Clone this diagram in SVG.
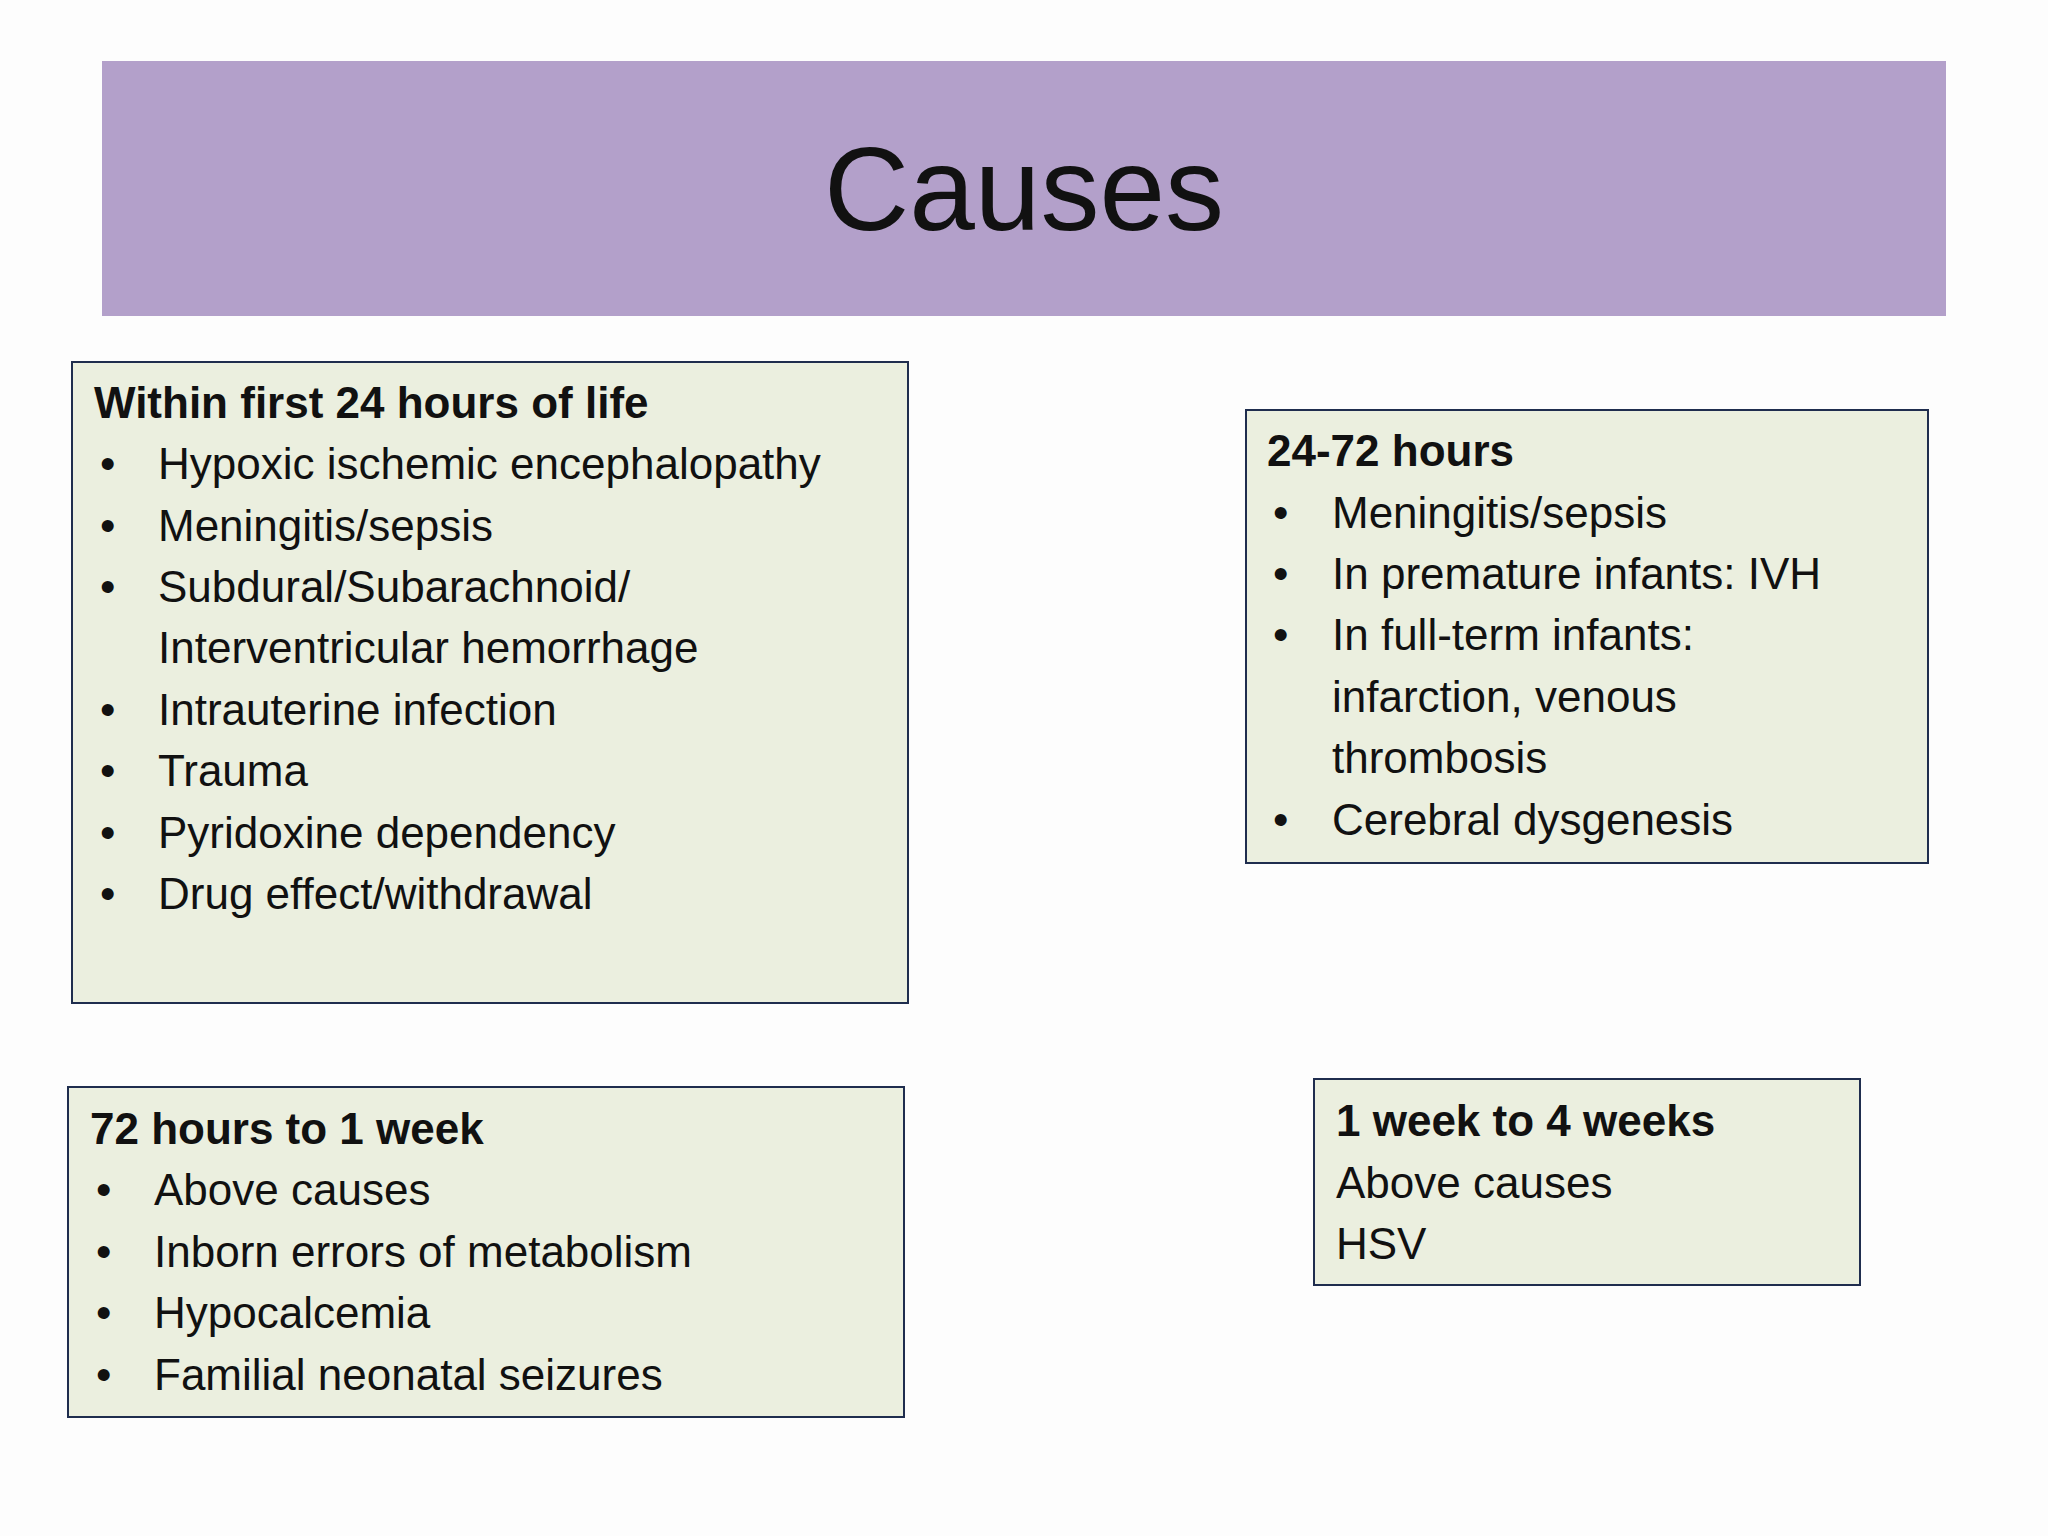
<svg xmlns="http://www.w3.org/2000/svg" width="2048" height="1536" viewBox="0 0 2048 1536">
<style>
.box{fill:#ebefdf;stroke:#1f2d4e;stroke-width:2}
text{font-family:"Liberation Sans",Arial,sans-serif;font-size:44px;fill:#111}
.h{font-weight:bold}
</style>
<rect width="2048" height="1536" fill="#fdfdfd"/>
<g id="header">
<rect x="102" y="61" width="1844" height="255" fill="#b3a0ca"/>
<text x="1024" y="230" text-anchor="middle" style="font-size:118px">Causes</text>
</g>
<g id="box1">
<rect class="box" x="72" y="362" width="836" height="641"/>
<text class="h" x="94" y="418">Within first 24 hours of life</text>
<text x="100" y="479">•</text><text x="158" y="479">Hypoxic ischemic encephalopathy</text>
<text x="100" y="541">•</text><text x="158" y="541">Meningitis/sepsis</text>
<text x="100" y="602">•</text><text x="158" y="602">Subdural/Subarachnoid/</text>
<text x="158" y="663">Interventricular hemorrhage</text>
<text x="100" y="725">•</text><text x="158" y="725">Intrauterine infection</text>
<text x="100" y="786">•</text><text x="158" y="786">Trauma</text>
<text x="100" y="848">•</text><text x="158" y="848">Pyridoxine dependency</text>
<text x="100" y="909">•</text><text x="158" y="909">Drug effect/withdrawal</text>
</g>
<g id="box2">
<rect class="box" x="1246" y="410" width="682" height="453"/>
<text class="h" x="1267" y="466">24-72 hours</text>
<text x="1273" y="528">•</text><text x="1332" y="528">Meningitis/sepsis</text>
<text x="1273" y="589">•</text><text x="1332" y="589">In premature infants: IVH</text>
<text x="1273" y="650">•</text><text x="1332" y="650">In full-term infants:</text>
<text x="1332" y="712">infarction, venous</text>
<text x="1332" y="773">thrombosis</text>
<text x="1273" y="835">•</text><text x="1332" y="835">Cerebral dysgenesis</text>
</g>
<g id="box3">
<rect class="box" x="68" y="1087" width="836" height="330"/>
<text class="h" x="90" y="1144">72 hours to 1 week</text>
<text x="96" y="1205">•</text><text x="154" y="1205">Above causes</text>
<text x="96" y="1267">•</text><text x="154" y="1267">Inborn errors of metabolism</text>
<text x="96" y="1328">•</text><text x="154" y="1328">Hypocalcemia</text>
<text x="96" y="1390">•</text><text x="154" y="1390">Familial neonatal seizures</text>
</g>
<g id="box4">
<rect class="box" x="1314" y="1079" width="546" height="206"/>
<text class="h" x="1336" y="1136">1 week to 4 weeks</text>
<text x="1336" y="1198">Above causes</text>
<text x="1336" y="1259">HSV</text>
</g>
<g id="connectors"/>
</svg>
